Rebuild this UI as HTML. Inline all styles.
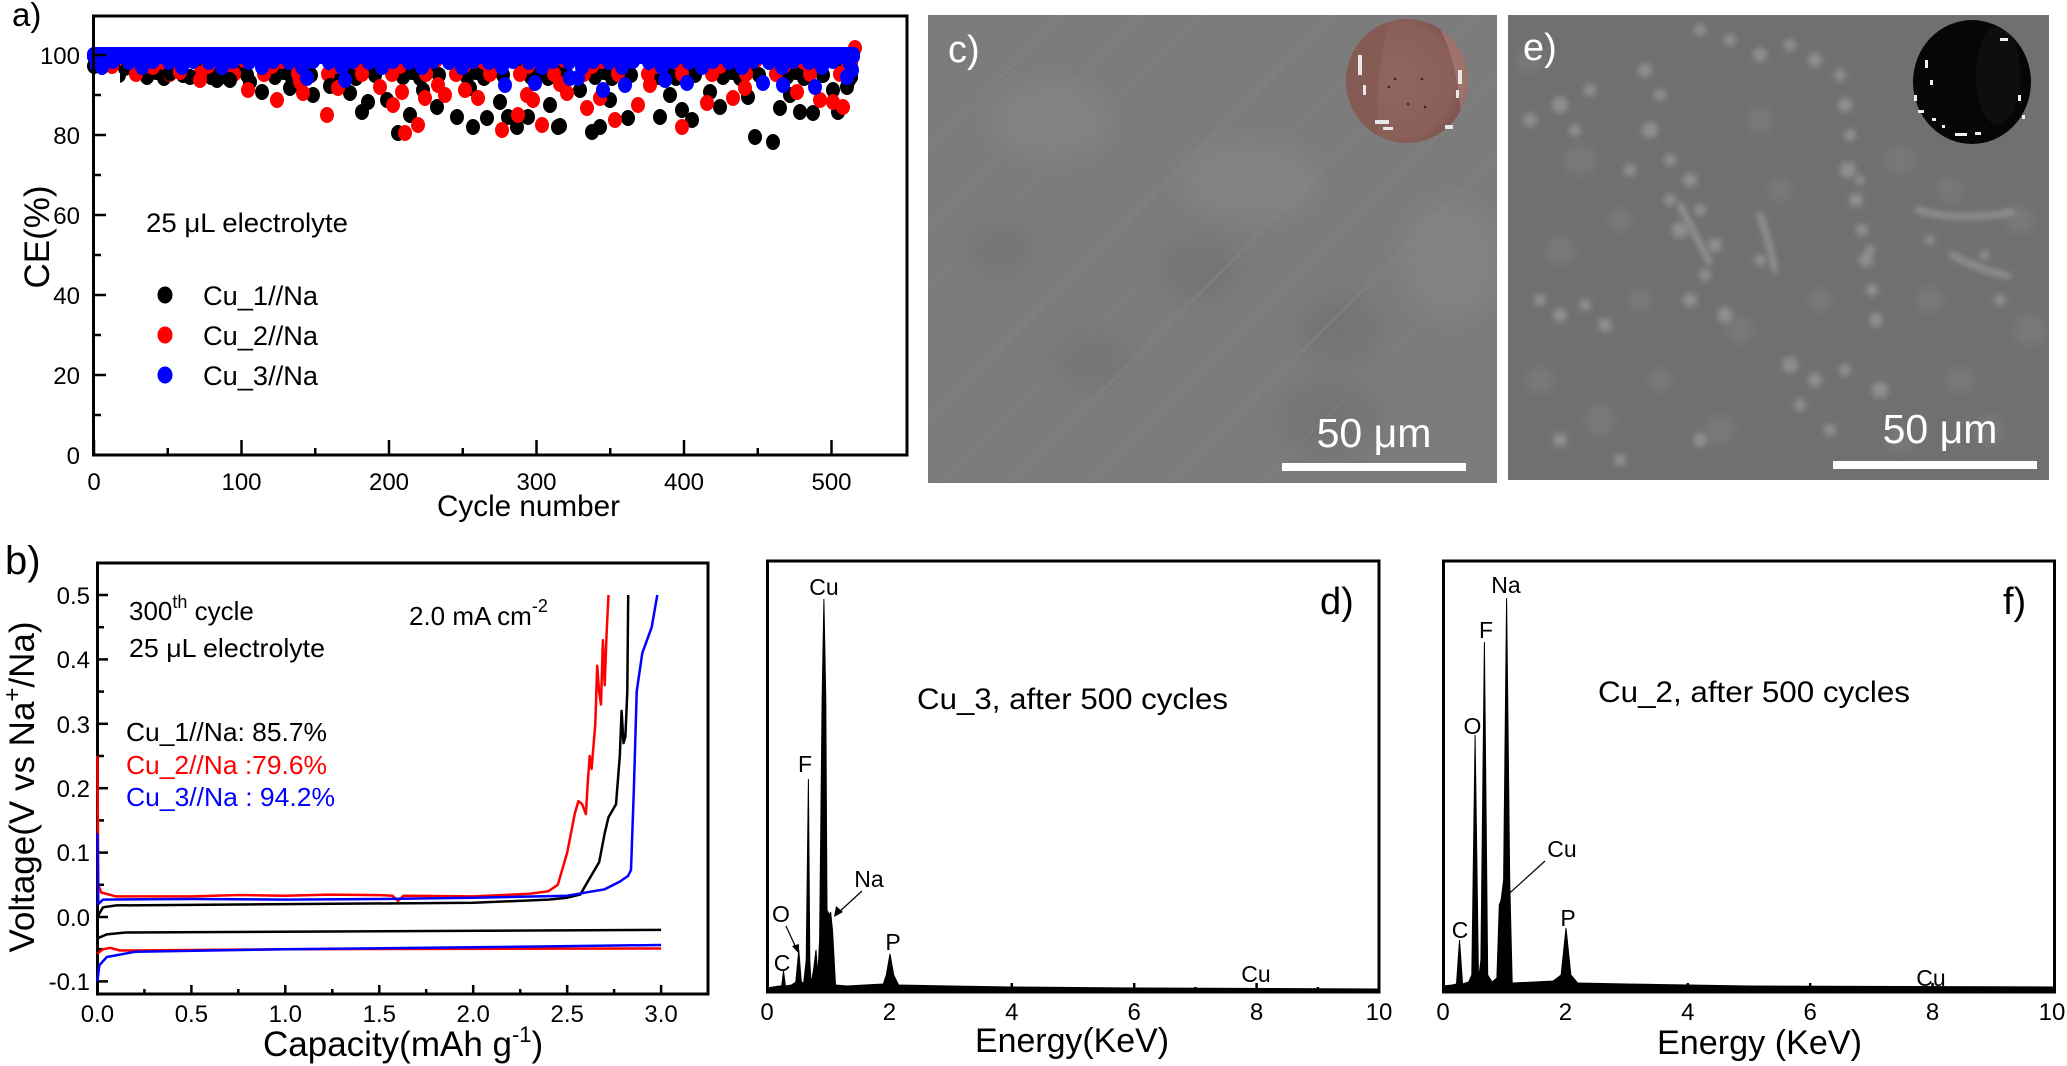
<!DOCTYPE html>
<html>
<head>
<meta charset="utf-8">
<style>
html,body{margin:0;padding:0;background:#fff;}
svg{display:block;}
text{font-family:"Liberation Sans",Arial,sans-serif;}
</style>
</head>
<body>
<svg width="2067" height="1066" viewBox="0 0 2067 1066" xmlns="http://www.w3.org/2000/svg">
<defs>
  <ellipse id="k" cx="0" cy="0" rx="7" ry="8"/>
  <clipPath id="cc"><rect x="928" y="15" width="569" height="468"/></clipPath>
  <clipPath id="ce"><rect x="1508" y="15" width="541" height="465"/></clipPath>
  <clipPath id="circc"><ellipse cx="1407" cy="81" rx="61" ry="62"/></clipPath>
  <clipPath id="circe"><ellipse cx="1972" cy="82" rx="59" ry="62"/></clipPath>
  <filter id="bl" x="-50%" y="-50%" width="200%" height="200%"><feGaussianBlur stdDeviation="3"/></filter>
  <filter id="bl4" x="-50%" y="-50%" width="200%" height="200%"><feGaussianBlur stdDeviation="5"/></filter>
  <filter id="bl2" x="-50%" y="-50%" width="200%" height="200%"><feGaussianBlur stdDeviation="12"/></filter>
  <radialGradient id="gc" cx="0.42" cy="0.5" r="0.62">
    <stop offset="0" stop-color="#916760"/>
    <stop offset="0.75" stop-color="#8a5f58"/>
    <stop offset="1" stop-color="#735049"/>
  </radialGradient>
  <pattern id="pbr" patternUnits="userSpaceOnUse" x="0" y="50" width="64" height="36">
    <g fill="#000">
      <use href="#k" x="10" y="12"/><use href="#k" x="28" y="22"/><use href="#k" x="46" y="14"/><use href="#k" x="55" y="25"/><use href="#k" x="19" y="27"/><use href="#k" x="36" y="28"/>
    </g>
    <g fill="#ff0000">
      <use href="#k" x="16" y="16"/><use href="#k" x="36" y="12"/><use href="#k" x="42" y="24"/><use href="#k" x="52" y="10"/><use href="#k" x="8" y="24"/><use href="#k" x="26" y="11"/>
    </g>
  </pattern>
  <pattern id="pb" patternUnits="userSpaceOnUse" x="0" y="54" width="40" height="24">
    <g fill="#0000ff"><use href="#k" x="9" y="8"/><use href="#k" x="22" y="13"/><use href="#k" x="33" y="7"/></g>
  </pattern>
</defs>

<rect x="0" y="0" width="2067" height="1066" fill="#fff"/>

<!-- ================= PANEL A ================= -->
<text x="12" y="26" font-size="33">a)</text>
<g>
  <g fill="#000"><use href="#k" x="100" y="64"/><use href="#k" x="125" y="68"/></g>
  <g fill="#ff0000"><use href="#k" x="112" y="66"/><use href="#k" x="138" y="70"/></g>
  <rect x="120" y="50" width="738" height="36" fill="url(#pbr)"/>
  <g fill="#000">
    <use href="#k" x="94" y="66"/><use href="#k" x="170" y="73"/><use href="#k" x="190" y="77"/><use href="#k" x="217" y="80"/><use href="#k" x="230" y="80"/><use href="#k" x="262" y="92"/><use href="#k" x="290" y="88"/><use href="#k" x="313" y="95"/><use href="#k" x="350" y="93"/><use href="#k" x="362" y="112"/><use href="#k" x="368" y="102"/><use href="#k" x="387" y="100"/><use href="#k" x="398" y="133"/><use href="#k" x="410" y="115"/><use href="#k" x="423" y="90"/><use href="#k" x="437" y="107"/><use href="#k" x="457" y="117"/><use href="#k" x="473" y="127"/><use href="#k" x="487" y="118"/><use href="#k" x="500" y="102"/><use href="#k" x="508" y="117"/><use href="#k" x="517" y="127"/><use href="#k" x="528" y="117"/><use href="#k" x="550" y="105"/><use href="#k" x="558" y="127"/><use href="#k" x="560" y="126"/><use href="#k" x="592" y="132"/><use href="#k" x="600" y="127"/><use href="#k" x="610" y="100"/><use href="#k" x="628" y="118"/><use href="#k" x="660" y="117"/><use href="#k" x="670" y="95"/><use href="#k" x="682" y="110"/><use href="#k" x="692" y="120"/><use href="#k" x="720" y="107"/><use href="#k" x="748" y="97"/><use href="#k" x="755" y="137"/><use href="#k" x="773" y="142"/><use href="#k" x="780" y="108"/><use href="#k" x="800" y="112"/><use href="#k" x="813" y="113"/><use href="#k" x="838" y="112"/><use href="#k" x="847" y="87"/><use href="#k" x="833" y="90"/><use href="#k" x="849" y="80"/>
    <use href="#k" x="250" y="82"/><use href="#k" x="330" y="86"/><use href="#k" x="470" y="88"/><use href="#k" x="580" y="90"/><use href="#k" x="710" y="92"/><use href="#k" x="790" y="95"/>
  </g>
  <g fill="#ff0000">
    <use href="#k" x="153" y="67"/><use href="#k" x="180" y="72"/><use href="#k" x="200" y="80"/><use href="#k" x="248" y="90"/><use href="#k" x="277" y="100"/><use href="#k" x="303" y="93"/><use href="#k" x="327" y="115"/><use href="#k" x="338" y="88"/><use href="#k" x="393" y="105"/><use href="#k" x="402" y="92"/><use href="#k" x="405" y="133"/><use href="#k" x="418" y="125"/><use href="#k" x="425" y="98"/><use href="#k" x="445" y="95"/><use href="#k" x="465" y="90"/><use href="#k" x="478" y="98"/><use href="#k" x="502" y="130"/><use href="#k" x="438" y="85"/><use href="#k" x="380" y="87"/><use href="#k" x="518" y="115"/><use href="#k" x="527" y="95"/><use href="#k" x="533" y="100"/><use href="#k" x="542" y="125"/><use href="#k" x="567" y="93"/><use href="#k" x="587" y="108"/><use href="#k" x="600" y="98"/><use href="#k" x="615" y="120"/><use href="#k" x="638" y="105"/><use href="#k" x="650" y="85"/><use href="#k" x="682" y="127"/><use href="#k" x="707" y="103"/><use href="#k" x="733" y="98"/><use href="#k" x="745" y="88"/><use href="#k" x="797" y="92"/><use href="#k" x="820" y="100"/><use href="#k" x="833" y="102"/><use href="#k" x="843" y="107"/>
    <use href="#k" x="855" y="48"/><use href="#k" x="300" y="82"/><use href="#k" x="560" y="84"/>
  </g>
  <rect x="87" y="47" width="773" height="17" rx="7" fill="#0000ff"/>
  <rect x="90" y="54" width="766" height="24" fill="url(#pb)"/>
  <g fill="#0000ff">
    <use href="#k" x="307" y="78"/><use href="#k" x="345" y="80"/><use href="#k" x="505" y="85"/><use href="#k" x="535" y="83"/><use href="#k" x="570" y="78"/><use href="#k" x="578" y="78"/><use href="#k" x="603" y="90"/><use href="#k" x="625" y="85"/><use href="#k" x="665" y="80"/><use href="#k" x="687" y="83"/><use href="#k" x="763" y="83"/><use href="#k" x="783" y="85"/><use href="#k" x="815" y="87"/><use href="#k" x="847" y="77"/><use href="#k" x="852" y="70"/>
  </g>
</g>
<rect x="93.5" y="16" width="813.5" height="439" fill="none" stroke="#000" stroke-width="3"/>
<g stroke="#000" stroke-width="2.5">
  <line x1="94" y1="455" x2="94" y2="440"/><line x1="241.5" y1="455" x2="241.5" y2="440"/><line x1="389" y1="455" x2="389" y2="440"/><line x1="536.5" y1="455" x2="536.5" y2="440"/><line x1="684" y1="455" x2="684" y2="440"/><line x1="831.5" y1="455" x2="831.5" y2="440"/>
  <line x1="167.75" y1="455" x2="167.75" y2="448"/><line x1="315.25" y1="455" x2="315.25" y2="448"/><line x1="462.75" y1="455" x2="462.75" y2="448"/><line x1="610.25" y1="455" x2="610.25" y2="448"/><line x1="757.75" y1="455" x2="757.75" y2="448"/>
  <line x1="94" y1="55" x2="106" y2="55"/><line x1="94" y1="135" x2="106" y2="135"/><line x1="94" y1="215" x2="106" y2="215"/><line x1="94" y1="295" x2="106" y2="295"/><line x1="94" y1="375" x2="106" y2="375"/>
  <line x1="94" y1="95" x2="101" y2="95"/><line x1="94" y1="175" x2="101" y2="175"/><line x1="94" y1="255" x2="101" y2="255"/><line x1="94" y1="335" x2="101" y2="335"/><line x1="94" y1="415" x2="101" y2="415"/>
</g>
<g font-size="24" text-anchor="end">
  <text x="80" y="64">100</text><text x="80" y="144">80</text><text x="80" y="224">60</text><text x="80" y="304">40</text><text x="80" y="384">20</text><text x="80" y="464">0</text>
</g>
<g font-size="24" text-anchor="middle">
  <text x="94" y="490">0</text><text x="241.5" y="490">100</text><text x="389" y="490">200</text><text x="536.5" y="490">300</text><text x="684" y="490">400</text><text x="831.5" y="490">500</text>
</g>
<text x="437" y="516" font-size="30" textLength="183" lengthAdjust="spacingAndGlyphs">Cycle number</text>
<text transform="translate(49,237) rotate(-90)" text-anchor="middle" font-size="35">CE(%)</text>
<text x="146" y="232" font-size="27" textLength="202" lengthAdjust="spacingAndGlyphs">25 μL electrolyte</text>
<ellipse cx="165" cy="295" rx="7.5" ry="8.5" fill="#000"/>
<ellipse cx="165" cy="335" rx="7.5" ry="8.5" fill="#ff0000"/>
<ellipse cx="165" cy="375" rx="7.5" ry="8.5" fill="#0000ff"/>
<g font-size="27">
  <text x="203" y="305" textLength="115" lengthAdjust="spacingAndGlyphs">Cu_1//Na</text>
  <text x="203" y="345" textLength="115" lengthAdjust="spacingAndGlyphs">Cu_2//Na</text>
  <text x="203" y="385" textLength="115" lengthAdjust="spacingAndGlyphs">Cu_3//Na</text>
</g>

<!-- ================= PANEL C (SEM) ================= -->
<g clip-path="url(#cc)">
  <rect x="928" y="15" width="569" height="468" fill="#7c7c7c"/>
  <g fill="#737373" filter="url(#bl2)" opacity="0.8">
    <ellipse cx="1000" cy="250" rx="30" ry="25"/>
    <ellipse cx="1200" cy="270" rx="40" ry="30"/>
    <ellipse cx="1340" cy="330" rx="40" ry="35"/>
    <ellipse cx="1330" cy="420" rx="50" ry="40"/>
    <ellipse cx="1090" cy="360" rx="35" ry="25"/>
  </g>
  <g fill="#848484" filter="url(#bl2)" opacity="0.8">
    <ellipse cx="1050" cy="120" rx="60" ry="40"/>
    <ellipse cx="1250" cy="180" rx="70" ry="40"/>
    <ellipse cx="1450" cy="260" rx="50" ry="60"/>
  </g>
  <g stroke="#8a8a8a" stroke-width="2" opacity="0.45">
    <line x1="928" y1="230" x2="1143" y2="15"/>
    <line x1="928" y1="420" x2="1333" y2="15"/>
    <line x1="1010" y1="483" x2="1478" y2="15"/>
    <line x1="1170" y1="483" x2="1497" y2="156"/>
    <line x1="928" y1="150" x2="1063" y2="15"/>
  </g>
  <g stroke="#858585" stroke-width="1.2" opacity="0.45">
    <line x1="928" y1="290" x2="1203" y2="15"/>
    <line x1="940" y1="483" x2="1408" y2="15"/>
    <line x1="1090" y1="483" x2="1497" y2="76"/>
    <line x1="1260" y1="483" x2="1497" y2="246"/>
  </g>
  <!-- inset photo -->
  <ellipse cx="1407" cy="81" rx="61" ry="62" fill="url(#gc)"/>
  <g clip-path="url(#circc)">
    <path d="M1432 15 Q1462 60 1462 145 L1480 145 L1480 15 Z" fill="#a87b72" opacity="0.75"/>
    <path d="M1346 20 L1390 20 Q1375 60 1378 145 L1346 145 Z" fill="#7d544e" opacity="0.5"/>
  </g>
  <g fill="#e8e8e8">
    <rect x="1358" y="55" width="4" height="20"/>
    <rect x="1363" y="85" width="3" height="10"/>
    <rect x="1375" y="120" width="14" height="4"/>
    <rect x="1383" y="127" width="10" height="3"/>
    <rect x="1458" y="70" width="4" height="14"/>
    <rect x="1456" y="90" width="3" height="8"/>
    <rect x="1445" y="125" width="8" height="4"/>
  </g>
  <g fill="#3a2320"><circle cx="1395" cy="79" r="1.3"/><circle cx="1389" cy="87" r="1.3"/><circle cx="1422" cy="79" r="1.3"/><circle cx="1408" cy="104" r="1.3"/><circle cx="1425" cy="107" r="1.3"/></g>
  <rect x="1282" y="463" width="184" height="8" fill="#fff"/>
  <text x="1374" y="447" font-size="41" fill="#fff" text-anchor="middle">50 μm</text>
  <text x="948" y="62" font-size="38" fill="#fff">c)</text>
</g>

<!-- ================= PANEL E (SEM) ================= -->
<g clip-path="url(#ce)">
  <rect x="1508" y="15" width="541" height="465" fill="#707070"/>
  <g fill="#7d7d7d" filter="url(#bl4)" opacity="0.7">
    <circle cx="1530" cy="60" r="14"/><circle cx="1580" cy="160" r="16"/><circle cx="1620" cy="220" r="12"/><circle cx="1560" cy="250" r="15"/><circle cx="1540" cy="380" r="14"/><circle cx="1600" cy="420" r="16"/><circle cx="1660" cy="380" r="13"/><circle cx="1720" cy="430" r="15"/><circle cx="1760" cy="120" r="14"/><circle cx="1780" cy="190" r="12"/><circle cx="1900" cy="160" r="15"/><circle cx="1950" cy="190" r="13"/><circle cx="2020" cy="220" r="14"/><circle cx="2030" cy="330" r="16"/><circle cx="1960" cy="380" r="14"/><circle cx="1900" cy="440" r="13"/><circle cx="1990" cy="430" r="15"/><circle cx="1820" cy="300" r="12"/><circle cx="1740" cy="330" r="14"/><circle cx="1640" cy="300" r="12"/><circle cx="1930" cy="300" r="14"/>
  </g>
  <g fill="#8f8f8f" filter="url(#bl)">
    <circle cx="1645" cy="70" r="7"/><circle cx="1660" cy="95" r="6"/><circle cx="1650" cy="130" r="8"/><circle cx="1670" cy="160" r="6"/><circle cx="1690" cy="180" r="7"/><circle cx="1700" cy="210" r="6"/><circle cx="1680" cy="230" r="8"/><circle cx="1715" cy="245" r="7"/><circle cx="1705" cy="275" r="6"/><circle cx="1690" cy="300" r="7"/><circle cx="1725" cy="315" r="8"/><circle cx="1670" cy="200" r="6"/><circle cx="1630" cy="170" r="6"/>
    <circle cx="1730" cy="40" r="6"/><circle cx="1760" cy="55" r="7"/><circle cx="1790" cy="45" r="6"/><circle cx="1815" cy="60" r="7"/><circle cx="1700" cy="30" r="6"/>
    <circle cx="1840" cy="75" r="6"/><circle cx="1845" cy="105" r="7"/><circle cx="1850" cy="135" r="6"/><circle cx="1848" cy="170" r="8"/><circle cx="1856" cy="200" r="7"/><circle cx="1862" cy="230" r="6"/><circle cx="1866" cy="260" r="7"/><circle cx="1872" cy="290" r="6"/><circle cx="1876" cy="320" r="7"/><circle cx="1860" cy="180" r="5"/><circle cx="1870" cy="250" r="5"/>
    <circle cx="1540" cy="300" r="6"/><circle cx="1560" cy="315" r="7"/><circle cx="1585" cy="305" r="6"/><circle cx="1605" cy="325" r="7"/><circle cx="1530" cy="120" r="7"/><circle cx="1560" cy="105" r="8"/><circle cx="1590" cy="90" r="6"/><circle cx="1575" cy="130" r="6"/>
    <circle cx="1790" cy="365" r="8"/><circle cx="1815" cy="380" r="7"/><circle cx="1845" cy="370" r="6"/><circle cx="1880" cy="390" r="8"/><circle cx="1800" cy="405" r="6"/><circle cx="1830" cy="430" r="6"/>
    <circle cx="1560" cy="440" r="7"/><circle cx="1620" cy="460" r="6"/><circle cx="1700" cy="440" r="7"/><circle cx="1760" cy="260" r="6"/><circle cx="1930" cy="240" r="5"/><circle cx="2000" cy="300" r="6"/><circle cx="1985" cy="255" r="5"/>
  </g>
  <g stroke="#939393" stroke-width="6" stroke-linecap="round" filter="url(#bl)" fill="none">
    <path d="M1918 210 Q1960 222 2012 212"/>
    <path d="M1952 255 Q1980 270 2008 276"/>
    <path d="M1680 205 Q1700 245 1710 262"/>
    <path d="M1760 215 Q1770 245 1775 270"/>
  </g>
  <ellipse cx="1972" cy="82" rx="59" ry="62" fill="#060606"/>
  <g clip-path="url(#circe)">
    <ellipse cx="1998" cy="75" rx="22" ry="50" fill="#0e0e0e"/>
  </g>
  <g fill="#f0f0f0">
    <rect x="1925" y="60" width="3" height="8"/><rect x="1930" y="80" width="3" height="5"/>
    <rect x="1918" y="110" width="6" height="3"/><rect x="1932" y="118" width="4" height="3"/><rect x="1942" y="125" width="3" height="3"/>
    <rect x="1955" y="133" width="12" height="3"/><rect x="1975" y="132" width="6" height="3"/>
    <rect x="2018" y="95" width="3" height="6"/><rect x="2022" y="115" width="3" height="4"/><rect x="2000" y="38" width="8" height="3"/>
    <rect x="1914" y="95" width="3" height="6"/>
  </g>
  <rect x="1833" y="461" width="204" height="8" fill="#fff"/>
  <text x="1940" y="443" font-size="41" fill="#fff" text-anchor="middle">50 μm</text>
  <text x="1523" y="60" font-size="38" fill="#fff">e)</text>
</g>

<!-- ================= PANEL B ================= -->
<text x="5" y="574" font-size="40">b)</text>
<rect x="97.5" y="563" width="610.5" height="431" fill="none" stroke="#000" stroke-width="3"/>
<g stroke="#000" stroke-width="2.5">
  <line x1="97.4" y1="994" x2="97.4" y2="985"/><line x1="191.4" y1="994" x2="191.4" y2="985"/><line x1="285.3" y1="994" x2="285.3" y2="985"/><line x1="379.3" y1="994" x2="379.3" y2="985"/><line x1="473.2" y1="994" x2="473.2" y2="985"/><line x1="567.2" y1="994" x2="567.2" y2="985"/><line x1="661.1" y1="994" x2="661.1" y2="985"/>
  <line x1="144.4" y1="994" x2="144.4" y2="989"/><line x1="238.3" y1="994" x2="238.3" y2="989"/><line x1="332.3" y1="994" x2="332.3" y2="989"/><line x1="426.2" y1="994" x2="426.2" y2="989"/><line x1="520.2" y1="994" x2="520.2" y2="989"/><line x1="614.1" y1="994" x2="614.1" y2="989"/>
  <line x1="98" y1="981.4" x2="108" y2="981.4"/><line x1="98" y1="917" x2="108" y2="917"/><line x1="98" y1="852.6" x2="108" y2="852.6"/><line x1="98" y1="788.2" x2="108" y2="788.2"/><line x1="98" y1="723.8" x2="108" y2="723.8"/><line x1="98" y1="659.4" x2="108" y2="659.4"/><line x1="98" y1="595" x2="108" y2="595"/>
  <line x1="98" y1="949.2" x2="104" y2="949.2"/><line x1="98" y1="884.8" x2="104" y2="884.8"/><line x1="98" y1="820.4" x2="104" y2="820.4"/><line x1="98" y1="756" x2="104" y2="756"/><line x1="98" y1="691.6" x2="104" y2="691.6"/><line x1="98" y1="627.2" x2="104" y2="627.2"/>
</g>
<g font-size="24" text-anchor="end">
  <text x="90" y="604">0.5</text><text x="90" y="668">0.4</text><text x="90" y="733">0.3</text><text x="90" y="797">0.2</text><text x="90" y="861">0.1</text><text x="90" y="926">0.0</text><text x="90" y="990">-0.1</text>
</g>
<g font-size="24" text-anchor="middle">
  <text x="97.4" y="1022">0.0</text><text x="191.4" y="1022">0.5</text><text x="285.3" y="1022">1.0</text><text x="379.3" y="1022">1.5</text><text x="473.2" y="1022">2.0</text><text x="567.2" y="1022">2.5</text><text x="661.1" y="1022">3.0</text>
</g>
<text x="263" y="1056" font-size="35">Capacity(mAh g<tspan font-size="22" dy="-14">-1</tspan><tspan dy="14">)</tspan></text>
<text transform="translate(34,787) rotate(-90)" text-anchor="middle" font-size="35">Voltage(V vs Na<tspan font-size="24" dy="-14">+</tspan><tspan dy="14">/Na)</tspan></text>
<g fill="none" stroke-width="2.5" stroke-linejoin="round">
  <polyline stroke="#000" points="97.4,938.3 106.8,934.4 125.6,932.5 661.1,929.9"/>
  <polyline stroke="#ff0000" points="97.4,953.7 103,949.2 110.6,947.9 120,950.5 285.3,949.2 661.1,948.5"/>
  <polyline stroke="#0000ff" points="97.4,981.4 99.3,965.3 106.8,957 135,951.8 285.3,949.2 473.2,947.3 661.1,945"/>
  <polyline stroke="#000" points="97.4,917 103,907.3 116.2,905.4 285.3,904.1 473.2,902.8 548.4,899.6 567.2,897.7 580.3,894.5 585.9,884.8 599.1,862.3 604.7,833.3 608.5,817.2 616,804.3 619.8,756 621.6,710.9 623.5,743.1 625.4,736.7 627.3,691.6 628.2,595"/>
  <polyline stroke="#ff0000" points="97.4,756 98.3,884.8 101.2,892.5 116.2,896.4 191.4,896.4 240,895 285.3,895.7 330,894.6 379.3,895.1 392.4,895.7 398,900.9 403.7,895.7 473.2,896.4 529.6,893.8 548.4,891.2 557.8,884.8 567.2,852.6 574.7,814 578.4,801.1 582.2,804.3 585.9,814 587.8,781.8 589.7,756 591.6,768.9 595.3,723.8 597.2,665.8 599.1,691.6 601,704.5 602.9,640.1 604.7,685.2 606.6,633.6 608.5,595"/>
  <polyline stroke="#0000ff" points="97.4,833.3 98.3,904.1 103,899.6 191.4,899 285.3,899.6 379.3,899 473.2,897.7 567.2,895.7 604.7,889.3 619.8,881.6 628,876 631,870 633.9,788.2 636.7,691.6 642.3,653 651.7,627.2 657.3,595"/>
</g>
<g font-size="26">
  <text x="129" y="620">300<tspan font-size="18" dy="-12">th</tspan><tspan dy="12"> cycle</tspan></text>
  <text x="129" y="657" textLength="196" lengthAdjust="spacingAndGlyphs">25 μL electrolyte</text>
  <text x="409" y="625">2.0 mA cm<tspan font-size="18" dy="-13">-2</tspan></text>
  <text x="126" y="741" fill="#000" textLength="201" lengthAdjust="spacingAndGlyphs">Cu_1//Na: 85.7%</text>
  <text x="126" y="774" fill="#ff0000" textLength="201" lengthAdjust="spacingAndGlyphs">Cu_2//Na :79.6%</text>
  <text x="126" y="806" fill="#0000ff" textLength="209" lengthAdjust="spacingAndGlyphs">Cu_3//Na : 94.2%</text>
</g>

<!-- ================= PANEL D ================= -->
<path d="M767 988 L773.1 987 L779.2 986 L781.7 986 L783.5 971 L785.4 986 L791.5 985 L795.8 982 L798.8 950 L801.3 982 L803.7 983 L806.2 960 L808.4 779 L809.8 960 L811.1 984 L813.5 970 L816 950 L817.8 975 L819.6 940 L822.1 700 L823.9 599 L825.8 700 L827 910 L829.4 915 L830.6 912 L832.5 930 L835.5 985 L846.6 986 L864.9 985 L883.3 984 L886.3 975 L890 954 L893.7 975 L898.6 985 L950.6 986 L1011.8 987 L1134.2 988 L1379 989 L1379 991 L767 991 Z" fill="#000" stroke="#000" stroke-width="1"/>
<rect x="767.5" y="561" width="611.5" height="431" fill="none" stroke="#000" stroke-width="3"/>
<g stroke="#000" stroke-width="2.5">
  <line x1="889.4" y1="992" x2="889.4" y2="983"/><line x1="1011.8" y1="992" x2="1011.8" y2="983"/><line x1="1134.2" y1="992" x2="1134.2" y2="983"/><line x1="1256.6" y1="992" x2="1256.6" y2="983"/>
  <line x1="828.2" y1="992" x2="828.2" y2="987"/><line x1="950.6" y1="992" x2="950.6" y2="987"/><line x1="1073" y1="992" x2="1073" y2="987"/><line x1="1195.4" y1="992" x2="1195.4" y2="987"/><line x1="1317.8" y1="992" x2="1317.8" y2="987"/>
</g>
<g font-size="24" text-anchor="middle">
  <text x="767" y="1020">0</text><text x="889.4" y="1020">2</text><text x="1011.8" y="1020">4</text><text x="1134.2" y="1020">6</text><text x="1256.6" y="1020">8</text><text x="1379" y="1020">10</text>
</g>
<text x="975" y="1052" font-size="34" textLength="194" lengthAdjust="spacingAndGlyphs">Energy(KeV)</text>
<text x="1320" y="614" font-size="38">d)</text>
<text x="917" y="709" font-size="30" textLength="311" lengthAdjust="spacingAndGlyphs">Cu_3, after 500 cycles</text>
<g font-size="23" text-anchor="middle">
  <text x="824" y="595">Cu</text>
  <text x="805" y="772">F</text>
  <text x="869" y="887">Na</text>
  <text x="781" y="922">O</text>
  <text x="782" y="971">C</text>
  <text x="893" y="950">P</text>
  <text x="1256" y="982">Cu</text>
</g>
<line x1="862" y1="891" x2="838" y2="913" stroke="#000" stroke-width="1.2"/>
<polygon points="834,917 836,906 843,912" fill="#000"/>
<line x1="786" y1="926" x2="797" y2="950" stroke="#000" stroke-width="1.2"/>
<polygon points="799,954 792,946 799,944" fill="#000"/>

<!-- ================= PANEL F ================= -->
<path d="M1443 986 L1452.2 985 L1456.5 984 L1459.5 940 L1462.6 984 L1468.7 982 L1471.8 975 L1475.1 735 L1478.5 980 L1480.9 960 L1484.4 642 L1487.7 975 L1492 982 L1496.9 978 L1499.3 905 L1501.1 900 L1503.6 880 L1506.6 598 L1509.7 880 L1512.2 983 L1534.8 982 L1553.2 981 L1561.1 975 L1566 928 L1570.9 975 L1577.6 983 L1626.6 984 L1749 986 L2055 987 L2055 991 L1443 991 Z" fill="#000" stroke="#000" stroke-width="1"/>
<rect x="1443.5" y="561" width="611" height="431" fill="none" stroke="#000" stroke-width="3"/>
<g stroke="#000" stroke-width="2.5">
  <line x1="1565.4" y1="992" x2="1565.4" y2="983"/><line x1="1687.8" y1="992" x2="1687.8" y2="983"/><line x1="1810.2" y1="992" x2="1810.2" y2="983"/><line x1="1932.6" y1="992" x2="1932.6" y2="983"/>
  <line x1="1504.2" y1="992" x2="1504.2" y2="987"/><line x1="1626.6" y1="992" x2="1626.6" y2="987"/><line x1="1749" y1="992" x2="1749" y2="987"/><line x1="1871.4" y1="992" x2="1871.4" y2="987"/><line x1="1993.8" y1="992" x2="1993.8" y2="987"/>
</g>
<g font-size="24" text-anchor="middle">
  <text x="1443" y="1020">0</text><text x="1565.4" y="1020">2</text><text x="1687.8" y="1020">4</text><text x="1810.2" y="1020">6</text><text x="1932.6" y="1020">8</text><text x="2052" y="1020">10</text>
</g>
<text x="1657" y="1054" font-size="34" textLength="205" lengthAdjust="spacingAndGlyphs">Energy (KeV)</text>
<text x="2003" y="614" font-size="38">f)</text>
<text x="1598" y="702" font-size="30" textLength="312" lengthAdjust="spacingAndGlyphs">Cu_2, after 500 cycles</text>
<g font-size="23" text-anchor="middle">
  <text x="1506" y="593">Na</text>
  <text x="1486" y="638">F</text>
  <text x="1472.5" y="734">O</text>
  <text x="1562" y="857">Cu</text>
  <text x="1460" y="938">C</text>
  <text x="1568" y="926">P</text>
  <text x="1931" y="986">Cu</text>
</g>
<line x1="1545" y1="861" x2="1502" y2="900" stroke="#000" stroke-width="1.2"/>
</svg>
</body>
</html>
